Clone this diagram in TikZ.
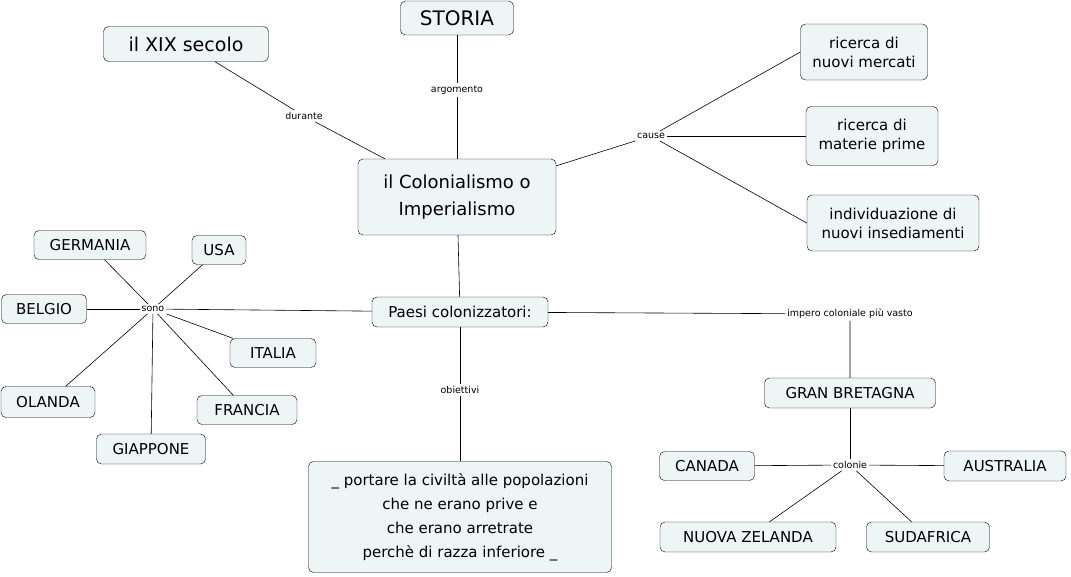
\documentclass[tikz,border=0pt]{standalone}
\usepackage{fontspec}
\setmainfont{DejaVu Sans}
\definecolor{boxfill}{HTML}{EEF5F5}
\begin{document}
\begin{tikzpicture}[x=1pt,y=-1pt,
  cbox/.style={draw=black,fill=boxfill,rounded corners=5pt,align=center,font=\fontsize{15}{19}\selectfont,inner sep=2pt},
  lab/.style={font=\fontsize{9.5}{11}\selectfont,inner sep=2pt},
  ln/.style={draw=black,line width=0.6pt}]
\useasboundingbox (0,0) rectangle (1071,576);
\node[cbox,minimum width=113,minimum height=34,font=\fontsize{20}{22}\selectfont] (storia) at (457,18) {STORIA};
\node[cbox,minimum width=165,minimum height=35,font=\fontsize{19}{22}\selectfont] (xix) at (186,44) {il XIX secolo};
\node[cbox,minimum width=198,minimum height=76,font=\fontsize{18}{27}\selectfont] (col) at (457,197) {il Colonialismo o\\Imperialismo};
\node[cbox,minimum width=127,minimum height=56] (merc) at (864,52) {ricerca di\\nuovi mercati};
\node[cbox,minimum width=132,minimum height=59] (mat) at (872,136) {ricerca di\\materie prime};
\node[cbox,minimum width=172,minimum height=56] (ins) at (893,223) {individuazione di\\nuovi insediamenti};
\node[lab] (cause) at (651,136) {cause};
\node[lab] (arg) at (457,90) {argomento};
\node[lab] (dur) at (304,116) {durante};
\node[cbox,minimum width=176,minimum height=30] (paesi) at (460,312) {Paesi colonizzatori:};
\node[lab] (sono) at (153,309) {sono};
\node[cbox,minimum width=112,minimum height=29] (ger) at (90,245) {GERMANIA};
\node[cbox,minimum width=54,minimum height=29] (usa) at (219,250) {USA};
\node[cbox,minimum width=85,minimum height=29] (bel) at (44,309) {BELGIO};
\node[cbox,minimum width=86,minimum height=29] (ita) at (273,353) {ITALIA};
\node[cbox,minimum width=94,minimum height=31] (ola) at (48,402) {OLANDA};
\node[cbox,minimum width=100,minimum height=29] (fra) at (247,410) {FRANCIA};
\node[cbox,minimum width=109,minimum height=30] (gia) at (151,449) {GIAPPONE};
\node[lab] (obi) at (460,390) {obiettivi};
\node[cbox,minimum width=303,minimum height=111,font=\fontsize{15}{24}\selectfont] (port) at (460,517) {\_ portare la civiltà alle popolazioni\\che ne erano prive e\\che erano arretrate\\perchè di razza inferiore \_};
\node[lab] (imp) at (850,314) {impero coloniale più vasto};
\node[cbox,minimum width=171,minimum height=30] (gb) at (850,393) {GRAN BRETAGNA};
\node[lab] (colo) at (850,465) {colonie};
\node[cbox,minimum width=95,minimum height=29] (can) at (707,466) {CANADA};
\node[cbox,minimum width=122,minimum height=30] (aus) at (1005,466) {AUSTRALIA};
\node[cbox,minimum width=176,minimum height=30] (nz) at (748,537) {NUOVA ZELANDA};
\node[cbox,minimum width=123,minimum height=30] (sud) at (928,537) {SUDAFRICA};
\draw[ln] (col) -- (arg) -- (storia);
\draw[ln] (col) -- (dur) -- (xix);
\draw[ln] (col) -- (cause);
\draw[ln] (cause) -- (merc.west); \draw[ln] (cause) -- (mat.west); \draw[ln] (cause) -- (ins.west);
\draw[ln] (col) -- (paesi);
\draw[ln] (paesi) -- (sono);
\foreach \n in {ger,usa,bel,ita,ola,fra,gia} \draw[ln] (sono) -- (\n);
\draw[ln] (paesi) -- (obi) -- (port);
\draw[ln] (paesi) -- (imp) -- (gb);
\draw[ln] (gb) -- (colo);
\foreach \n in {can,aus,nz,sud} \draw[ln] (colo) -- (\n);
\end{tikzpicture}
\end{document}
